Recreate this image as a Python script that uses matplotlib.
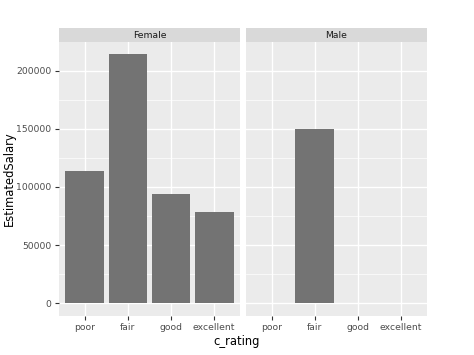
import numpy as np
import matplotlib
matplotlib.use("Agg")
from matplotlib import pyplot as plt
from matplotlib import ticker as mticker

categories = ["poor", "fair", "good", "excellent"]
facets = ["Female", "Male"]
female_salary = [114000, 214000, 93700, 78700]
male_salary = [0, 150000, 0, 0]
yticks = [0, 50000, 100000, 150000, 200000]

values = {"Female": female_salary, "Male": male_salary}

fig = plt.figure(figsize=(4.74, 3.55), dpi=100, facecolor="white")
W, H = 474.0, 355.0
panels = [(59, 240), (246, 426.7)]
ptop, pbot = 42, 315.7
strip_top = 28

x = np.arange(1, len(categories) + 1)
ymax = max(max(female_salary), max(male_salary))
ylim = (-0.05 * ymax, 1.05 * ymax)

axes = []
for i, (name, (l, r)) in enumerate(zip(facets, panels)):
    ax = fig.add_axes([l / W, 1 - pbot / H, (r - l) / W, (pbot - ptop) / H])
    ax.set_facecolor("#ebebeb")
    ax.set_axisbelow(True)
    vals = values[name]
    mask = np.array(vals) > 0
    ax.bar(x[mask], np.array(vals)[mask], width=0.9, color="#737373", zorder=3)
    ax.set_xlim(0.4, 4.6)
    ax.set_ylim(*ylim)
    ax.set_xticks(x)
    ax.set_xticklabels(categories)
    ax.yaxis.set_major_locator(mticker.FixedLocator(yticks))
    ax.yaxis.set_minor_locator(mticker.FixedLocator([25000, 75000, 125000, 175000]))
    ax.grid(True, which="major", color="white", linewidth=1.0)
    ax.grid(True, which="minor", axis="y", color="white", linewidth=0.5)
    for s in ax.spines.values():
        s.set_visible(False)
    ax.tick_params(axis="both", which="major", length=3, width=0.8, color="#333333",
                   labelsize=6.7, labelcolor="#4d4d4d", pad=2.5)
    ax.tick_params(axis="both", which="minor", length=0)
    if i == 1:
        ax.tick_params(axis="y", which="major", length=0, labelleft=False)
    # strip
    sax = fig.add_axes([l / W, 1 - ptop / H, (r - l) / W, (ptop - strip_top) / H])
    sax.set_facecolor("#d9d9d9")
    sax.set_xticks([])
    sax.set_yticks([])
    for s in sax.spines.values():
        s.set_visible(False)
    sax.text(0.5, 0.5, name, ha="center", va="center", fontsize=6.7, color="#1a1a1a",
             transform=sax.transAxes)
    axes.append(ax)

fig.text(9.5 / W, 1 - 179 / H, "EstimatedSalary", rotation=90, ha="center", va="center", fontsize=8.3)
fig.text(237 / W, 1 - 341 / H, "c_rating", ha="center", va="center", fontsize=8.3)

fig.savefig("out.png", dpi=100, facecolor="white")
